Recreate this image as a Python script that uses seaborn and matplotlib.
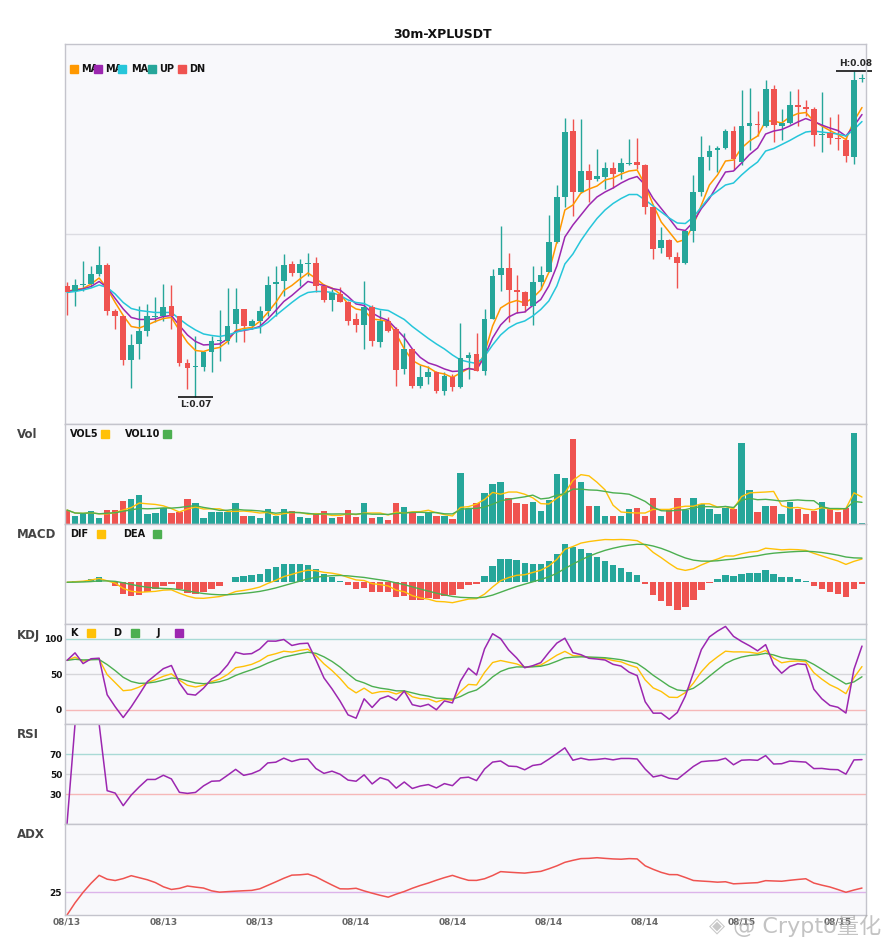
import numpy as np
import pandas as pd
import matplotlib
matplotlib.use('Agg')
import matplotlib.pyplot as plt
from matplotlib.patches import Rectangle
import seaborn as sns

sns.set_theme(style='white')
plt.rcParams['font.family'] = ['DejaVu Sans', 'Noto Sans CJK SC']

# ── 30m candles, XPLUSDT ──────────────────────────────────────────────────
open_ = [0.07570, 0.07560, 0.07572, 0.07574, 0.07594, 0.07612, 0.07520, 0.07510, 0.07422, 0.07454,
         0.07480, 0.07508, 0.07510, 0.07530, 0.07510, 0.07416, 0.07408, 0.07408, 0.07438, 0.07460,
         0.07460, 0.07494, 0.07524, 0.07490, 0.07500, 0.07520, 0.07574, 0.07580, 0.07614, 0.07596,
         0.07614, 0.07616, 0.07570, 0.07542, 0.07554, 0.07538, 0.07504, 0.07492, 0.07528, 0.07458,
         0.07500, 0.07484, 0.07404, 0.07444, 0.07370, 0.07388, 0.07398, 0.07360, 0.07388, 0.07368,
         0.07426, 0.07434, 0.07400, 0.07504, 0.07592, 0.07606, 0.07562, 0.07558, 0.07530, 0.07578,
         0.07598, 0.07658, 0.07748, 0.07880, 0.07758, 0.07800, 0.07784, 0.07788, 0.07806, 0.07798,
         0.07814, 0.07818, 0.07812, 0.07728, 0.07646, 0.07662, 0.07628, 0.07616, 0.07680, 0.07758,
         0.07828, 0.07842, 0.07846, 0.07880, 0.07818, 0.07890, 0.07894, 0.07890, 0.07964, 0.07890,
         0.07896, 0.07932, 0.07928, 0.07924, 0.07872, 0.07876, 0.07866, 0.07862, 0.07828, 0.07984]
high = [0.07578, 0.07584, 0.07620, 0.07610, 0.07650, 0.07616, 0.07524, 0.07510, 0.07474, 0.07530,
        0.07534, 0.07548, 0.07574, 0.07572, 0.07510, 0.07424, 0.07470, 0.07440, 0.07470, 0.07522,
        0.07566, 0.07566, 0.07524, 0.07504, 0.07530, 0.07590, 0.07610, 0.07634, 0.07620, 0.07624,
        0.07636, 0.07628, 0.07574, 0.07564, 0.07568, 0.07540, 0.07516, 0.07580, 0.07532, 0.07522,
        0.07508, 0.07488, 0.07476, 0.07444, 0.07412, 0.07410, 0.07400, 0.07398, 0.07394, 0.07496,
        0.07438, 0.07476, 0.07524, 0.07604, 0.07690, 0.07636, 0.07592, 0.07560, 0.07610, 0.07610,
        0.07712, 0.07772, 0.07906, 0.07904, 0.07904, 0.07814, 0.07844, 0.07818, 0.07818, 0.07826,
        0.07864, 0.07866, 0.07814, 0.07730, 0.07688, 0.07664, 0.07638, 0.07682, 0.07792, 0.07870,
        0.07852, 0.07850, 0.07884, 0.07890, 0.07962, 0.07966, 0.07920, 0.07982, 0.07972, 0.07924,
        0.07960, 0.07964, 0.07942, 0.07928, 0.07958, 0.07908, 0.07914, 0.07868, 0.08000, 0.07994]
low = [0.07512, 0.07530, 0.07560, 0.07568, 0.07590, 0.07512, 0.07484, 0.07412, 0.07366, 0.07424,
       0.07470, 0.07498, 0.07500, 0.07484, 0.07410, 0.07364, 0.07348, 0.07400, 0.07398, 0.07420,
       0.07454, 0.07458, 0.07458, 0.07484, 0.07476, 0.07510, 0.07510, 0.07550, 0.07590, 0.07570,
       0.07590, 0.07558, 0.07538, 0.07520, 0.07538, 0.07492, 0.07478, 0.07444, 0.07450, 0.07448,
       0.07478, 0.07370, 0.07394, 0.07366, 0.07366, 0.07374, 0.07356, 0.07352, 0.07360, 0.07366,
       0.07384, 0.07400, 0.07392, 0.07504, 0.07560, 0.07498, 0.07516, 0.07518, 0.07492, 0.07564,
       0.07598, 0.07656, 0.07728, 0.07710, 0.07756, 0.07738, 0.07780, 0.07764, 0.07766, 0.07784,
       0.07812, 0.07804, 0.07714, 0.07624, 0.07636, 0.07624, 0.07566, 0.07614, 0.07658, 0.07750,
       0.07802, 0.07798, 0.07844, 0.07802, 0.07812, 0.07842, 0.07870, 0.07888, 0.07858, 0.07862,
       0.07894, 0.07890, 0.07910, 0.07850, 0.07838, 0.07854, 0.07842, 0.07818, 0.07814, 0.07978]
close = [0.07558, 0.07572, 0.07574, 0.07594, 0.07612, 0.07520, 0.07510, 0.07422, 0.07452, 0.07480,
         0.07510, 0.07510, 0.07528, 0.07510, 0.07416, 0.07406, 0.07410, 0.07438, 0.07460, 0.07462,
         0.07490, 0.07524, 0.07490, 0.07500, 0.07520, 0.07572, 0.07578, 0.07612, 0.07596, 0.07614,
         0.07616, 0.07570, 0.07542, 0.07556, 0.07538, 0.07500, 0.07492, 0.07528, 0.07460, 0.07500,
         0.07480, 0.07402, 0.07444, 0.07370, 0.07388, 0.07398, 0.07360, 0.07390, 0.07368, 0.07426,
         0.07432, 0.07400, 0.07504, 0.07590, 0.07606, 0.07562, 0.07558, 0.07530, 0.07578, 0.07592,
         0.07658, 0.07748, 0.07878, 0.07758, 0.07800, 0.07782, 0.07790, 0.07806, 0.07794, 0.07816,
         0.07816, 0.07812, 0.07728, 0.07644, 0.07662, 0.07628, 0.07616, 0.07680, 0.07758, 0.07828,
         0.07840, 0.07846, 0.07880, 0.07824, 0.07890, 0.07896, 0.07892, 0.07964, 0.07892, 0.07896,
         0.07932, 0.07928, 0.07924, 0.07872, 0.07874, 0.07866, 0.07864, 0.07830, 0.07982, 0.07986]

# MA lines as drawn on the chart
ma5 = [0.07559, 0.07563, 0.07565, 0.07574, 0.07586, 0.07565, 0.07537, 0.07511, 0.07489, 0.07486,
       0.07492, 0.07499, 0.07505, 0.07507, 0.07481, 0.07457, 0.07441, 0.07439, 0.07444, 0.07447,
       0.07459, 0.07481, 0.07485, 0.07487, 0.07499, 0.07517, 0.07537, 0.07561, 0.07571, 0.07584,
       0.07596, 0.07585, 0.07572, 0.07566, 0.07554, 0.07534, 0.07524, 0.07521, 0.07504, 0.07502,
       0.07499, 0.07474, 0.07444, 0.07421, 0.07412, 0.07407, 0.07397, 0.07394, 0.07387, 0.07396,
       0.07405, 0.07402, 0.07436, 0.07490, 0.07526, 0.07536, 0.07541, 0.07536, 0.07546, 0.07562,
       0.07597, 0.07658, 0.07722, 0.07732, 0.07756, 0.07764, 0.07770, 0.07782, 0.07786, 0.07794,
       0.07800, 0.07802, 0.07772, 0.07732, 0.07698, 0.07678, 0.07658, 0.07663, 0.07692, 0.07732,
       0.07772, 0.07792, 0.07820, 0.07822, 0.07846, 0.07860, 0.07870, 0.07900, 0.07900, 0.07896,
       0.07908, 0.07915, 0.07917, 0.07900, 0.07890, 0.07881, 0.07873, 0.07863, 0.07900, 0.07927]
ma10 = [0.07559, 0.07561, 0.07564, 0.07569, 0.07579, 0.07567, 0.07545, 0.07524, 0.07507, 0.07503,
        0.07503, 0.07504, 0.07509, 0.07511, 0.07491, 0.07472, 0.07459, 0.07452, 0.07453, 0.07454,
        0.07464, 0.07479, 0.07481, 0.07484, 0.07489, 0.07504, 0.07521, 0.07539, 0.07551, 0.07565,
        0.07579, 0.07575, 0.07571, 0.07565, 0.07562, 0.07549, 0.07534, 0.07531, 0.07516, 0.07507,
        0.07501, 0.07484, 0.07467, 0.07444, 0.07427, 0.07416, 0.07411, 0.07404, 0.07399, 0.07400,
        0.07405, 0.07402, 0.07429, 0.07466, 0.07492, 0.07508, 0.07516, 0.07518, 0.07531, 0.07543,
        0.07570, 0.07610, 0.07668, 0.07692, 0.07712, 0.07732, 0.07748, 0.07758, 0.07766, 0.07776,
        0.07784, 0.07789, 0.07772, 0.07745, 0.07725, 0.07705, 0.07684, 0.07681, 0.07698, 0.07725,
        0.07745, 0.07772, 0.07798, 0.07800, 0.07816, 0.07833, 0.07846, 0.07874, 0.07880, 0.07883,
        0.07890, 0.07898, 0.07905, 0.07899, 0.07892, 0.07886, 0.07881, 0.07870, 0.07890, 0.07913]
ma20 = [0.07557, 0.07559, 0.07562, 0.07566, 0.07572, 0.07567, 0.07554, 0.07537, 0.07525, 0.07521,
        0.07519, 0.07517, 0.07517, 0.07517, 0.07504, 0.07492, 0.07482, 0.07474, 0.07471, 0.07469,
        0.07472, 0.07477, 0.07482, 0.07484, 0.07487, 0.07497, 0.07511, 0.07524, 0.07537, 0.07549,
        0.07557, 0.07559, 0.07559, 0.07557, 0.07551, 0.07542, 0.07537, 0.07535, 0.07527, 0.07523,
        0.07521, 0.07512, 0.07503, 0.07489, 0.07477, 0.07465, 0.07454, 0.07444, 0.07432, 0.07422,
        0.07418, 0.07415, 0.07429, 0.07452, 0.07472, 0.07486, 0.07495, 0.07500, 0.07510, 0.07523,
        0.07540, 0.07570, 0.07614, 0.07634, 0.07661, 0.07684, 0.07705, 0.07722, 0.07735, 0.07745,
        0.07753, 0.07753, 0.07742, 0.07730, 0.07718, 0.07706, 0.07696, 0.07695, 0.07708, 0.07728,
        0.07748, 0.07760, 0.07772, 0.07776, 0.07792, 0.07806, 0.07818, 0.07840, 0.07845, 0.07853,
        0.07861, 0.07870, 0.07878, 0.07880, 0.07878, 0.07876, 0.07874, 0.07870, 0.07883, 0.07899]

# volume in 10k units
volume = [14, 8, 10, 13, 6, 14, 14, 23, 25, 29, 10, 11, 16, 11, 12, 25, 21, 6, 12, 12,
          12, 21, 8, 8, 6, 15, 8, 15, 13, 7, 6, 11, 13, 6, 7, 14, 7, 21, 6, 7,
          4, 21, 17, 12, 8, 11, 8, 8, 5, 51, 15, 21, 31, 40, 42, 26, 21, 20, 22, 13,
          24, 50, 46, 85, 42, 18, 18, 8, 8, 8, 15, 16, 8, 26, 8, 15, 26, 14, 26, 20,
          15, 10, 16, 15, 81, 34, 12, 18, 18, 10, 22, 15, 10, 13, 22, 15, 12, 16, 91, 1]
tick_pos = [0, 12, 24, 36, 48, 60, 72, 84, 96]
tick_lab = ['08/13', '08/13', '08/13', '08/14', '08/14', '08/14', '08/14', '08/15', '08/15']

df = pd.DataFrame({'open': open_, 'high': high, 'low': low, 'close': close,
                   'ma5': ma5, 'ma10': ma10, 'ma20': ma20, 'volume': volume})
df['x'] = np.arange(len(df))

# ── indicators ────────────────────────────────────────────────────────────
df['vol5'] = df['volume'].rolling(5, min_periods=1).mean()
df['vol10'] = df['volume'].rolling(10, min_periods=1).mean()

ema12 = df['close'].ewm(span=12, adjust=False).mean()
ema26 = df['close'].ewm(span=26, adjust=False).mean()
df['dif'] = ema12 - ema26
df['dea'] = df['dif'].ewm(span=9, adjust=False).mean()
df['hist'] = 2 * (df['dif'] - df['dea'])

ln = df['low'].rolling(9, min_periods=1).min()
hn = df['high'].rolling(9, min_periods=1).max()
rsv = (df['close'] - ln) / (hn - ln) * 100
df['k'] = rsv.ewm(com=2, adjust=False).mean()
df['d'] = df['k'].ewm(com=2, adjust=False).mean()
df['j'] = 3 * df['k'] - 2 * df['d']

delta = df['close'].diff().fillna(0)
gain = delta.clip(lower=0).ewm(alpha=1 / 14, adjust=False).mean()
loss = (-delta.clip(upper=0)).ewm(alpha=1 / 14, adjust=False).mean()
df['rsi'] = (100 * gain / (gain + loss)).fillna(0)

up_mv = df['high'].diff().fillna(0)
dn_mv = (-df['low'].diff()).fillna(0)
pdm = np.where((up_mv > dn_mv) & (up_mv > 0), up_mv, 0.0)
mdm = np.where((dn_mv > up_mv) & (dn_mv > 0), dn_mv, 0.0)
tr = pd.concat([df['high'] - df['low'],
                (df['high'] - df['close'].shift()).abs(),
                (df['low'] - df['close'].shift()).abs()], axis=1).max(axis=1)
atr = tr.ewm(span=14, adjust=False).mean()
pdi = 100 * pd.Series(pdm).ewm(span=14, adjust=False).mean() / atr
mdi = 100 * pd.Series(mdm).ewm(span=14, adjust=False).mean() / atr
dx = (100 * (pdi - mdi).abs() / (pdi + mdi)).fillna(0)
df['adx'] = dx.ewm(span=14, adjust=False).mean()

# ── style ─────────────────────────────────────────────────────────────────
UP, DN = '#26a69a', '#ef5350'
C_MA5, C_MA10, C_MA20 = '#ff9800', '#9c27b0', '#26c6da'
C_Y, C_G = '#ffc107', '#4caf50'
FACE, SPINE = '#f8f8fb', '#c4c4cc'
W_PX, H_PX = 885, 950

fig = plt.figure(figsize=(W_PX / 100, H_PX / 100), dpi=100)


def add_ax(top, h):
    ax = fig.add_axes([65 / W_PX, 1 - (top + h) / H_PX, 801 / W_PX, h / H_PX])
    ax.set_facecolor(FACE)
    for s in ax.spines.values():
        s.set_color(SPINE)
        s.set_linewidth(1)
    ax.set_xlim(-0.25, 99.5)
    ax.tick_params(length=0, labelsize=6.5, pad=2)
    ax.set_xticks(tick_pos)
    ax.set_xticklabels([])
    ax.set_yticks([])
    return ax


def line(ax, col, color, lw=1.1):
    sns.lineplot(x=df['x'], y=df[col], ax=ax, color=color, linewidth=lw, legend=False)
    ax.set_xlabel('')
    ax.set_ylabel('')


def fig_sq(xp, yc, color):
    fig.add_artist(Rectangle((xp / W_PX, 1 - (yc + 4) / H_PX), 8 / W_PX, 8 / H_PX,
                             transform=fig.transFigure, color=color, zorder=6))


def fig_txt(xp, yc, s):
    fig.text(xp / W_PX, 1 - yc / H_PX, s, va='center', ha='left',
             fontsize=7, fontweight='bold', color='#111')


colors = np.where(df['close'] >= df['open'], UP, DN)

# ── price panel ───────────────────────────────────────────────────────────
ax_p = add_ax(44, 380)
lo, hi = df['low'].min(), df['high'].max()
pad = (hi - lo) * 0.083
ax_p.set_ylim(lo - pad, hi + pad)
ax_p.axhline((lo + hi) / 2, color='#dcdce2', lw=1, zorder=0)
ax_p.vlines(df['x'], df['low'], df['high'], colors=colors, lw=1, zorder=2)
body = (df['close'] - df['open']).abs().clip(lower=(hi - lo) * 0.003)
ax_p.bar(df['x'], body, bottom=np.minimum(df['open'], df['close']), width=0.72,
         color=colors, linewidth=0, zorder=3)
line(ax_p, 'ma5', C_MA5)
line(ax_p, 'ma10', C_MA10)
line(ax_p, 'ma20', C_MA20)

ih, il = int(df['high'].idxmax()), int(df['low'].idxmin())
ax_p.hlines(hi, ih - 2.2, ih + 2.2, color='#111', lw=1.2, clip_on=False)
ax_p.annotate(f'H:{hi:.2f}', (ih + 0.2, hi), xytext=(0, 2), textcoords='offset points',
              ha='center', va='bottom', fontsize=6.5, fontweight='bold', annotation_clip=False)
ax_p.hlines(lo, il - 2.2, il + 2.2, color='#111', lw=1.2, clip_on=False)
ax_p.annotate(f'L:{lo:.2f}', (il, lo), xytext=(0, -2), textcoords='offset points',
              ha='center', va='top', fontsize=6.5, fontweight='bold', annotation_clip=False)

for xs, xt, c, s in zip([70, 94, 118, 148, 178], [81, 105, 131, 159, 189],
                        [C_MA5, C_MA10, C_MA20, UP, DN], ['MA', 'MA', 'MA', 'UP', 'DN']):
    fig_sq(xs, 69, c)
    fig_txt(xt, 69, s)

# ── volume ────────────────────────────────────────────────────────────────
ax_v = add_ax(424, 100)
ax_v.bar(df['x'], df['volume'], width=0.8, color=colors, linewidth=0)
line(ax_v, 'vol5', C_Y, 1.0)
line(ax_v, 'vol10', C_G, 1.0)
ax_v.set_ylim(0, df['volume'].max() * 1.1)
fig_txt(70, 434, 'VOL5'); fig_sq(101, 434, C_Y)
fig_txt(125, 434, 'VOL10'); fig_sq(163, 434, C_G)

# ── MACD ──────────────────────────────────────────────────────────────────
ax_m = add_ax(524, 100)
ax_m.bar(df['x'], df['hist'], width=0.8, linewidth=0,
         color=np.where(df['hist'] >= 0, UP, DN))
line(ax_m, 'dif', C_Y, 1.0)
line(ax_m, 'dea', C_G, 1.0)
mlo = df[['hist', 'dif', 'dea']].min().min()
mhi = df[['hist', 'dif', 'dea']].max().max()
ax_m.set_ylim(mlo - (mhi - mlo) * 0.2, mhi + (mhi - mlo) * 0.22)
fig_txt(70, 534, 'DIF'); fig_sq(97, 534, C_Y)
fig_txt(123, 534, 'DEA'); fig_sq(153, 534, C_G)

# ── KDJ ───────────────────────────────────────────────────────────────────
ax_k = add_ax(624, 100)
ax_k.set_ylim(-20, 121)
ax_k.axhline(100, color='#a9dad6', lw=1)
ax_k.axhline(50, color='#d6d6da', lw=1)
ax_k.axhline(0, color='#f6b8b8', lw=1)
line(ax_k, 'k', C_Y, 1.0)
line(ax_k, 'd', C_G, 1.0)
line(ax_k, 'j', C_MA10, 1.1)
ax_k.set_yticks([0, 50, 100])
fig_txt(70, 633, 'K'); fig_sq(87, 633, C_Y)
fig_txt(113, 633, 'D'); fig_sq(131, 633, C_G)
fig_txt(157, 633, 'J'); fig_sq(175, 633, C_MA10)

# ── RSI ───────────────────────────────────────────────────────────────────
ax_r = add_ax(724, 100)
ax_r.set_ylim(0, 100)
ax_r.axhline(70, color='#a9dad6', lw=1)
ax_r.axhline(50, color='#d6d6da', lw=1)
ax_r.axhline(30, color='#f6b8b8', lw=1)
line(ax_r, 'rsi', C_MA10, 1.1)
ax_r.set_yticks([30, 50, 70])

# ── ADX ───────────────────────────────────────────────────────────────────
ax_a = add_ax(824, 91)
ax_a.set_ylim(0, 100)
ax_a.axhline(25, color='#dcb4ea', lw=1)
line(ax_a, 'adx', DN, 1.1)
ax_a.set_yticks([25])
ax_a.set_xticklabels(tick_lab)

for ax in (ax_k, ax_r, ax_a):
    for t in ax.get_yticklabels():
        t.set_fontweight('bold')
        t.set_color('#111')
for t in ax_a.get_xticklabels():
    t.set_fontweight('bold')
    t.set_color('#666')

for yc, s in zip([435, 535, 635, 735, 835], ['Vol', 'MACD', 'KDJ', 'RSI', 'ADX']):
    fig.text(17 / W_PX, 1 - yc / H_PX, s, fontsize=8.5, fontweight='bold',
             color='#444', va='center', ha='left')

fig.text(442 / W_PX, 1 - 34 / H_PX, '30m-XPLUSDT', ha='center', va='center',
         fontsize=9, fontweight='bold', color='#111')

# watermark
fig.text(717 / W_PX, 1 - 926 / H_PX, '◈', ha='center', va='center', fontsize=15,
         color='#bbbbbb', alpha=0.8)
fig.text(733 / W_PX, 1 - 926 / H_PX, '@ Crypto量化', ha='left', va='center',
         fontsize=16, color='#aaaaaa', alpha=0.7)

fig.savefig('out.png', dpi=100)
